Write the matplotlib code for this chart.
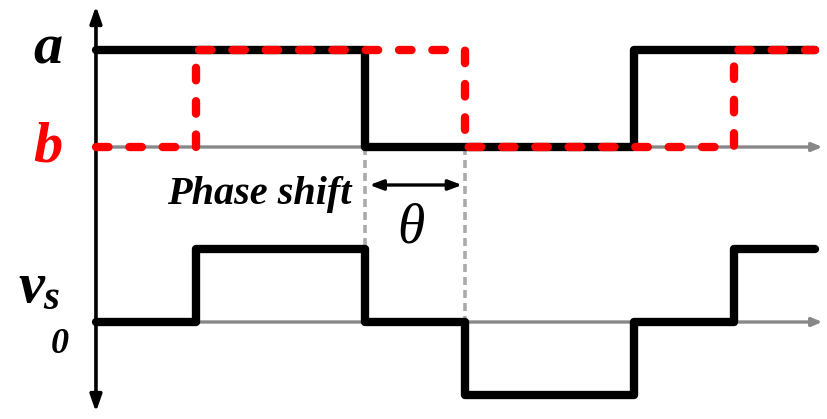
import matplotlib.pyplot as plt
import numpy as np

# switching instants in degrees, state held after each edge (steps-post)
a_edges = [0, 180, 360, 481]
a_states = [1, 0, 1, 1]
b_edges = [0, 67, 247, 427, 481]
b_states = [0, 1, 0, 1, 1]
vs_edges = [0, 67, 180, 247, 360, 427, 481]
vs_states = [0, 1, 0, -1, 0, 1, 1]
theta = 67

# vertical placement (pixel-like units)
TOP_BASE = 175
TOP_AMP = 97
VS_AMP = 73

plt.rcParams['mathtext.fontset'] = 'custom'
plt.rcParams['mathtext.it'] = 'Liberation Serif:italic:bold'
plt.rcParams['mathtext.rm'] = 'Liberation Serif:bold'

fig = plt.figure(figsize=(8.27, 4.19), dpi=100)
ax = fig.add_axes([0, 0, 1, 1])
ax.set_xlim(-64.2, 489.1)
ax.set_ylim(-97, 322)
ax.axis('off')

lw = 6.0

# gray time axes
for y0 in [TOP_BASE, 0]:
    ax.annotate('', xy=(486, y0), xytext=(0, y0),
                arrowprops=dict(arrowstyle='-|>,head_length=0.6,head_width=0.25',
                                color='#888888', lw=2.4, shrinkA=0, shrinkB=0))

# vertical axis with arrows at both ends
ax.annotate('', xy=(0, 316), xytext=(0, -90),
            arrowprops=dict(arrowstyle='<|-|>,head_length=1.0,head_width=0.35',
                            color='black', lw=2.6, shrinkA=0, shrinkB=0))

# gray dashed guides for phase shift
for xg in [180, 180 + theta]:
    ax.plot([xg, xg], [TOP_BASE, 0], color='#aaaaaa', lw=2.6,
            dashes=(2.2, 1.4), zorder=2)

# waveform a
ax.plot(a_edges, TOP_BASE + TOP_AMP * np.array(a_states), drawstyle='steps-post',
        color='black', lw=lw, solid_capstyle='round', solid_joinstyle='round', zorder=3)

# waveform b (dashed red)
ax.plot(b_edges, TOP_BASE + TOP_AMP * np.array(b_states), drawstyle='steps-post',
        color='#ff0000', lw=lw, dashes=(1.5, 2.5), dash_capstyle='round',
        dash_joinstyle='round', zorder=4)

# output voltage vs
ax.plot(vs_edges, VS_AMP * np.array(vs_states), drawstyle='steps-post',
        color='black', lw=lw, solid_capstyle='round', solid_joinstyle='round', zorder=3)

# phase-shift arrow
ax.annotate('', xy=(245, 137), xytext=(183, 137),
            arrowprops=dict(arrowstyle='<|-|>,head_length=0.8,head_width=0.3',
                            color='black', lw=2.4, shrinkA=0, shrinkB=0))

serif = 'Liberation Serif'
ax.text(-32, TOP_BASE + TOP_AMP, 'a', fontsize=42, family=serif, style='italic',
        weight='bold', ha='center', va='center')
ax.text(-32, TOP_BASE, 'b', fontsize=42, family=serif, style='italic',
        weight='bold', color='#ff0000', ha='center', va='center')
ax.text(-38, 36, r'$v_s$', fontsize=42, ha='center', va='center')
ax.text(-24, -22, '0', fontsize=26, family=serif, style='italic',
        weight='bold', ha='center', va='center')
ax.text(171, 118, 'Phase shift', fontsize=29, family=serif, style='italic',
        weight='bold', ha='right', va='baseline')
ax.text(211, 94, 'θ', fontsize=40, family=serif, style='italic',
        ha='center', va='center')

fig.savefig('out.png', dpi=100)
